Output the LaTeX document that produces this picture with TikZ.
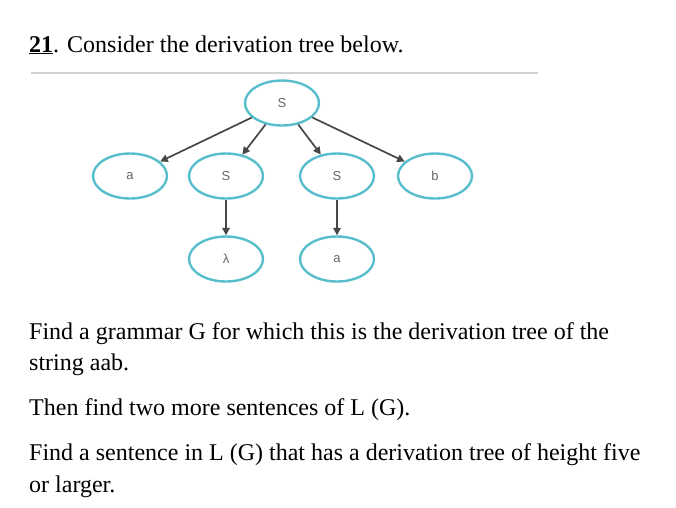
\documentclass[tikz,border=0pt]{standalone}
\usepackage{fontspec}
\setmainfont{Liberation Serif}
\setsansfont{Liberation Sans}
\usetikzlibrary{positioning, arrows.meta, shapes.geometric}

\definecolor{treeblue}{RGB}{88,190,204}

\begin{document}
\begin{tikzpicture}[x=1pt, y=-1pt,
    tnode/.style={ellipse, draw=treeblue, line width=2.4pt, minimum width=74pt,
                  minimum height=45pt, inner sep=0pt, text=black!60,
                  font=\sffamily\fontsize{13}{13}\selectfont},
    arrow/.style={-{Triangle[length=7.5pt, width=7.5pt]}, draw=black!72, line width=1.7pt},
    body/.style={anchor=base west, inner sep=0pt, font=\fontsize{24}{24}\selectfont}
]
    \useasboundingbox (0,0) rectangle (676,507);

    % Title
    \node[body] (title) at (29,52) {\textbf{\underline{21}}. Consider the derivation tree below.};
    \coordinate (ruleL) at (31,73);
    \coordinate (ruleR) at (538,73);
    \draw[black!18, line width=1.5pt] (ruleL) -- (ruleR);

    % Tree
    \node[tnode] (root) at (282,103) {S};
    \node[tnode] (a1) at (130,176) {a};
    \node[tnode] (s1) at (226,176) {S};
    \node[tnode] (s2) at (337,176) {S};
    \node[tnode] (b1) at (435,176) {b};
    \node[tnode] (lam) at (226,259) {λ};
    \node[tnode] (a2) at (337,259) {a};

    % Edges
    \draw[arrow] (root) -- (a1);
    \draw[arrow] (root) -- (s1);
    \draw[arrow] (root) -- (s2);
    \draw[arrow] (root) -- (b1);
    \draw[arrow] (s1) -- (lam);
    \draw[arrow] (s2) -- (a2);

    % Questions
    \node[body] (q1) at (29,339) {Find a grammar G for which this is the derivation tree of the};
    \node[body] (q1b) at (29,370) {string aab.};
    \node[body] (q2) at (29,415) {Then find two more sentences of L (G).};
    \node[body] (q3) at (29,460) {Find a sentence in L (G) that has a derivation tree of height five};
    \node[body] (q3b) at (29,492) {or larger.};

\end{tikzpicture}
\end{document}
